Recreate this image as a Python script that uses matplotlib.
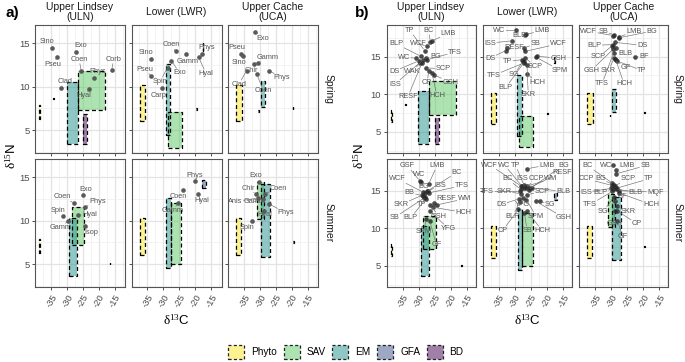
import matplotlib
matplotlib.use("Agg")
import matplotlib.pyplot as plt
from matplotlib.patches import Rectangle, Patch
from matplotlib.ticker import MultipleLocator
from matplotlib.colors import to_rgba

plt.rcParams['font.family'] = ['Liberation Sans', 'DejaVu Sans']
plt.rcParams['mathtext.fontset'] = 'custom'
plt.rcParams['mathtext.rm'] = 'Liberation Serif'
plt.rcParams['mathtext.it'] = 'Liberation Serif:italic'

# ---------------- data ----------------
SITES = ["ULN", "LWR", "UCA"]
SITE_LABELS = ["Upper Lindsey\n(ULN)", "Lower (LWR)", "Upper Cache\n(UCA)"]
SEASONS = ["Spring", "Summer"]
GROUPS = ["Phyto", "SAV", "EM", "GFA", "BD"]
X_TICKS = [-35, -30, -25, -20, -15]
Y_TICKS = [5, 10, 15]

# baseline source boxes: (group, d13C min, d13C max, d15N min, d15N max)
BOX_ULN_SPRING = [("Phyto", -38.6, -38.35, 6.3, 7.85), ("SAV", -26.65, -18.2, 7.3, 11.8),
                  ("EM", -30.1, -26.65, 3.35, 10.5), ("GFA", -34.25, -34.05, 8.55, 8.7),
                  ("BD", -24.9, -23.7, 3.35, 6.8)]
BOX_LWR_SPRING = [("Phyto", -37.45, -35.85, 6.05, 10.2), ("SAV", -28.55, -24.3, 2.95, 7.1),
                  ("EM", -29.25, -27.8, 4.4, 12.55), ("GFA", -19.8, -19.6, 7.35, 7.55),
                  ("BD", -17.65, -17.45, 14.1, 15.0)]
BOX_UCA_SPRING = [("Phyto", -37.4, -35.75, 6.0, 10.2), ("EM", -29.7, -28.45, 7.65, 10.65),
                  ("GFA", -30.45, -30.25, 7.05, 7.25), ("BD", -19.7, -19.5, 7.45, 7.65)]
BOX_ULN_SUMMER = [("Phyto", -38.6, -38.35, 6.3, 7.9), ("SAV", -28.5, -24.5, 7.2, 11.6),
                  ("EM", -29.2, -26.8, 3.6, 10.3), ("GFA", -16.6, -16.4, 5.0, 5.15)]
BOX_LWR_SUMMER = [("Phyto", -37.45, -35.8, 6.05, 10.25), ("SAV", -27.6, -24.4, 5.05, 12.0),
                  ("EM", -29.15, -27.6, 4.5, 12.55), ("GFA", -17.85, -16.8, 13.8, 14.65)]
BOX_UCA_SUMMER = [("Phyto", -37.4, -35.8, 6.05, 10.25), ("SAV", -30.9, -28.7, 10.2, 14.5),
                  ("EM", -29.65, -26.75, 5.8, 14.2), ("GFA", -19.65, -19.45, 7.45, 7.6)]

# a) invertebrate consumers: (taxon, d13C, d15N)
A_ULN_SPRING = [("Sino", -34.8, 14.5), ("Pseu", -33.0, 13.4), ("Exo", -27.1, 14.0), ("Coen", -25.5, 11.8),
                ("Corb", -16.0, 11.9), ("Phys", -21.5, 11.0), ("Hyal", -23.1, 9.7), ("Clad", -32.0, 9.85)]
A_LWR_SPRING = [("Sino", -34.0, 13.2), ("Pseu", -33.8, 11.2), ("Coen", -26.1, 14.05), ("Gamm", -22.9, 13.75),
                ("Phys", -18.0, 13.75), ("Hyal", -19.0, 13.4), ("Exo", -27.5, 13.0), ("Spin", -28.7, 12.2),
                ("Carp", -30.5, 9.85)]
A_UCA_SPRING = [("Exo", -31.55, 16.35), ("Pseu", -35.9, 13.75), ("Sino", -35.3, 13.55), ("Gamm", -30.5, 12.75),
                ("Chir", -31.9, 12.6), ("Clad", -34.2, 11.85), ("Coen", -31.0, 11.45), ("Phys", -27.1, 11.85)]
A_ULN_SUMMER = [("Exo", -25.0, 12.97), ("Coen", -27.7, 12.0), ("Phys", -24.3, 11.6), ("Spin", -31.1, 10.5),
                ("Hyal", -26.4, 10.65), ("Gamm", -29.6, 10.0), ("Isop", -24.2, 9.4)]
A_LWR_SUMMER = [("Phys", -20.1, 14.57), ("Hyal", -19.2, 13.1), ("Coen", -24.0, 13.5), ("Gamm", -25.35, 12.0)]
A_UCA_SUMMER = [("Exo", -30.3, 14.5), ("Chir", -31.3, 13.05), ("Coen", -28.4, 13.1), ("Anis", -30.6, 12.6),
                ("Gamm", -28.9, 12.5), ("Phys", -27.1, 11.9), ("Hyal", -28.7, 11.15), ("Spin", -32.6, 9.9)]

# b) fish consumers: (species, d13C, d15N)
B_ULN_SPRING = [("TP", -28.1, 15.8), ("BC", -26.3, 16.96), ("LMB", -25.8, 17.1), ("BLP", -29.35, 15.05),
                ("WCF", -27.5, 16.4), ("BG", -27.8, 14.8), ("TFS", -27.2, 14.6), ("WC", -30.9, 14.8),
                ("DS", -29.9, 14.45), ("WAK", -28.55, 14.6), ("SCP", -27.8, 13.5), ("ISS", -29.6, 14.2),
                ("CP", -26.8, 13.1), ("GSH", -25.3, 12.6), ("RESF", -29.0, 14.1), ("HCH", -25.8, 12.8)]
B_LWR_SPRING = [("WC", -29.6, 18.5), ("BLB", -26.7, 17.9), ("LMB", -26.4, 17.95), ("ISS", -30.8, 17.1),
                ("RESF", -32.3, 16.15), ("SB", -27.2, 16.15), ("WCF", -26.7, 15.7), ("DS", -32.8, 15.8),
                ("GSH", -23.1, 15.05), ("SPM", -23.3, 14.9), ("TP", -27.7, 14.6), ("SCP", -26.7, 14.8),
                ("TFS", -27.2, 14.15), ("SG", -27.5, 14.4), ("HCH", -26.2, 12.7), ("BLP", -27.0, 14.3),
                ("SKR", -26.2, 13.9)]
B_UCA_SPRING = [("WCF", -29.35, 17.8), ("SB", -29.0, 17.9), ("LMB", -27.5, 17.6), ("BG", -27.6, 17.5),
                ("BLP", -29.35, 16.6), ("DS", -28.9, 16.9), ("SCP", -29.75, 16.4), ("BLB", -28.5, 16.15),
                ("BF", -22.6, 15.0), ("GSH", -29.3, 16.0), ("SKR", -29.0, 14.8), ("GF", -28.5, 14.5),
                ("TP", -28.0, 14.4), ("TFS", -29.2, 15.5), ("HCH", -28.6, 14.7)]
B_ULN_SUMMER = [("GSF", -29.6, 16.3), ("WC", -29.2, 16.2), ("LMB", -26.8, 15.9), ("BC", -27.0, 15.0),
                ("WCF", -28.6, 14.8), ("ISS", -27.5, 14.9), ("TFS", -26.7, 14.7), ("BB", -28.6, 14.3),
                ("BG", -28.0, 14.7), ("RESF", -25.3, 13.4), ("WM", -24.3, 13.1), ("SKR", -28.8, 14.4),
                ("TP", -28.0, 14.2), ("HCH", -25.5, 12.8), ("SB", -28.3, 14.0), ("BLP", -27.7, 13.9),
                ("GSH", -26.3, 13.1), ("YFG", -26.3, 12.25), ("SPM", -27.6, 11.2), ("GF", -26.5, 11.0)]
B_LWR_SUMMER = [("WCF", -28.0, 15.6), ("WC", -27.7, 15.55), ("TP", -27.2, 15.8), ("LMB", -26.2, 17.9),
                ("BG", -25.7, 15.1), ("BC", -28.2, 15.2), ("ISS", -27.0, 15.3), ("CCP", -26.6, 15.4),
                ("WM", -26.2, 15.6), ("RESF", -25.4, 15.4), ("TFS", -28.5, 14.9), ("SKR", -28.0, 14.6),
                ("SCP", -26.2, 14.45), ("BLB", -24.6, 15.35), ("DS", -28.7, 13.9), ("YFG", -27.4, 14.0),
                ("SG", -22.1, 13.6), ("BLP", -28.3, 13.5), ("SPM", -26.4, 13.8), ("GSH", -23.5, 13.6),
                ("CP", -28.9, 12.5), ("SB", -27.0, 12.0), ("HCH", -26.2, 12.3)]
B_UCA_SUMMER = [("WC", -29.35, 18.4), ("LMB", -28.5, 17.7), ("SB", -28.3, 17.25), ("BC", -29.6, 16.0),
                ("CCP", -29.8, 15.7), ("BG", -29.2, 15.8), ("SCP", -28.75, 15.65), ("TP", -28.0, 15.35),
                ("ISS", -29.9, 15.3), ("BLP", -29.5, 15.2), ("BLB", -28.3, 15.2), ("MQF", -27.6, 15.0),
                ("TFS", -29.6, 14.9), ("HCH", -27.5, 14.7), ("SG", -29.0, 14.2), ("SKR", -28.2, 13.0),
                ("GSH", -28.9, 12.3), ("CP", -28.2, 12.35), ("GF", -28.0, 11.0), ("BF", -28.75, 13.6)]

# label placements (repelled text positions, data units)
A_ULN_SPRING_LAB = [(-36.3, 15.2), (-34.3, 12.6), (-25.8, 14.7), (-26.2, 13.15), (-15.3, 13.15),
                    (-20.3, 11.7), (-24.6, 8.95), (-30.5, 10.6)]
A_LWR_SPRING_LAB = [(-35.6, 13.9), (-35.9, 12.0), (-27.6, 14.8), (-22.4, 12.9), (-16.3, 14.5),
                    (-16.6, 11.5), (-25.0, 11.6), (-31.0, 10.6), (-31.4, 9.0)]
A_UCA_SPRING_LAB = [(-29.0, 15.6), (-37.2, 14.5), (-36.6, 12.8), (-27.65, 13.4), (-32.7, 11.85),
                    (-36.6, 10.25), (-28.9, 9.55), (-23.2, 11.0)]
A_ULN_SUMMER_LAB = [(-24.0, 13.6), (-31.4, 12.75), (-20.5, 12.2), (-32.7, 11.15), (-22.9, 10.7),
                    (-31.9, 9.2), (-22.4, 8.65)]
A_LWR_SUMMER_LAB = [(-20.1, 15.25), (-17.85, 12.3), (-25.4, 12.75), (-27.15, 11.15)]
A_UCA_SUMMER_LAB = [(-31.3, 15.25), (-33.6, 13.75), (-24.2, 13.75), (-37.7, 12.2), (-31.8, 12.2),
                    (-21.8, 10.9), (-28.4, 10.65), (-34.0, 9.2)]
B_ULN_SPRING_LAB = [(-32.65, 18.47), (-26.8, 18.47), (-20.65, 18.07), (-36.9, 16.7), (-29.9, 16.7),
                    (-24.75, 15.05), (-18.6, 15.6), (-34.5, 14.9), (-37.6, 13.05), (-31.9, 13.05),
                    (-22.2, 13.4), (-37.35, 11.35), (-27.3, 11.6), (-20.1, 11.6), (-33.3, 9.7), (-24.25, 9.85)]
B_LWR_SPRING_LAB = [(-34.85, 18.47), (-28.7, 17.85), (-21.5, 18.47), (-37.7, 16.8), (-30.2, 16.15),
                    (-23.55, 16.7), (-16.4, 16.7), (-37.7, 14.8), (-16.4, 14.8), (-15.9, 13.2),
                    (-32.3, 14.35), (-23.55, 13.7), (-36.7, 12.5), (-30.2, 12.6), (-23.05, 11.6),
                    (-32.8, 10.9), (-25.8, 9.95)]
B_UCA_SPRING_LAB = [(-37.0, 18.37), (-32.4, 18.37), (-22.9, 18.37), (-17.25, 18.37), (-35.2, 16.5),
                    (-20.3, 16.5), (-33.9, 14.95), (-25.45, 15.4), (-19.8, 14.95), (-36.2, 13.15),
                    (-30.8, 13.15), (-25.25, 13.5), (-20.3, 13.15), (-32.8, 11.4), (-25.95, 11.4)]
B_ULN_SUMMER_LAB = [(-33.5, 18.3), (-29.9, 17.1), (-24.25, 18.3), (-18.1, 17.4), (-36.55, 16.55),
                    (-23.2, 15.65), (-16.55, 15.65), (-32.75, 14.75), (-28.35, 15.5), (-21.2, 13.9),
                    (-15.7, 13.9), (-35.5, 13.15), (-29.05, 13.15), (-16.0, 12.1), (-37.55, 11.4),
                    (-32.4, 11.4), (-23.7, 11.6), (-20.65, 9.95), (-28.35, 9.6), (-24.45, 7.85)]
B_LWR_SUMMER_LAB = [(-37.8, 18.4), (-33.2, 18.4), (-29.8, 18.4), (-20.0, 18.4), (-14.85, 18.4),
                    (-32.3, 16.55), (-27.6, 16.55), (-23.3, 16.55), (-18.8, 16.55), (-15.3, 17.45),
                    (-38.6, 14.9), (-33.3, 14.9), (-21.5, 14.9), (-14.85, 14.9), (-34.3, 13.15),
                    (-27.7, 13.15), (-18.95, 13.15), (-30.75, 11.6), (-23.35, 11.6), (-14.85, 11.45),
                    (-33.8, 9.7), (-26.15, 9.7), (-21.5, 9.7)]
B_UCA_SUMMER_LAB = [(-31.4, 18.3), (-24.95, 18.3), (-19.3, 18.3), (-37.25, 18.3), (-37.55, 16.55),
                    (-33.3, 16.55), (-24.65, 16.55), (-18.3, 16.55), (-37.8, 14.8), (-33.3, 14.8),
                    (-22.35, 14.8), (-16.2, 14.8), (-36.5, 13.15), (-17.45, 13.15), (-32.4, 12.25),
                    (-24.65, 12.25), (-28.75, 10.6), (-21.9, 10.6), (-26.3, 8.9), (-26.5, 14.25)]

BOXES = {("ULN", "Spring"): BOX_ULN_SPRING, ("LWR", "Spring"): BOX_LWR_SPRING, ("UCA", "Spring"): BOX_UCA_SPRING,
         ("ULN", "Summer"): BOX_ULN_SUMMER, ("LWR", "Summer"): BOX_LWR_SUMMER, ("UCA", "Summer"): BOX_UCA_SUMMER}
A_PTS = {("ULN", "Spring"): (A_ULN_SPRING, A_ULN_SPRING_LAB), ("LWR", "Spring"): (A_LWR_SPRING, A_LWR_SPRING_LAB),
         ("UCA", "Spring"): (A_UCA_SPRING, A_UCA_SPRING_LAB), ("ULN", "Summer"): (A_ULN_SUMMER, A_ULN_SUMMER_LAB),
         ("LWR", "Summer"): (A_LWR_SUMMER, A_LWR_SUMMER_LAB), ("UCA", "Summer"): (A_UCA_SUMMER, A_UCA_SUMMER_LAB)}
B_PTS = {("ULN", "Spring"): (B_ULN_SPRING, B_ULN_SPRING_LAB), ("LWR", "Spring"): (B_LWR_SPRING, B_LWR_SPRING_LAB),
         ("UCA", "Spring"): (B_UCA_SPRING, B_UCA_SPRING_LAB), ("ULN", "Summer"): (B_ULN_SUMMER, B_ULN_SUMMER_LAB),
         ("LWR", "Summer"): (B_LWR_SUMMER, B_LWR_SUMMER_LAB), ("UCA", "Summer"): (B_UCA_SUMMER, B_UCA_SUMMER_LAB)}

# ---------------- style ----------------
VIRIDIS = {"Phyto": "#FDE725", "SAV": "#5DC863", "EM": "#21908C", "GFA": "#3B528B", "BD": "#440154"}
W, H = 685, 362
DASH = (0, (3.2, 2.2))

fig = plt.figure(figsize=(W / 100, H / 100), dpi=100)


def fx(px):
    return px / W


def fy(py):
    return 1 - py / H


ROWS = [(25, 153), (159, 287)]
PANELS = {
    "a": dict(cols=[35, 131.5, 228], w=90, xlim=(-40.0, -11.8), ylim=(2.35, 17.1),
              pts=A_PTS, pcol="#5a5a5a", palpha=1.0, strip_x=329, ylab_x=11, tag_x=13),
    "b": dict(cols=[386.5, 482.8, 579], w=89, xlim=(-40.0, -12.2), ylim=(2.2, 19.2),
              pts=B_PTS, pcol="#2b2b2b", palpha=0.85, strip_x=678, ylab_x=359, tag_x=363),
}


def draw_facet(ax, boxes, pts, labs, pcol, palpha):
    for g, x0, x1, y0, y1 in boxes:
        ax.add_patch(Rectangle((x0, y0), x1 - x0, y1 - y0, facecolor=to_rgba(VIRIDIS[g], 0.5),
                               edgecolor="none", zorder=2))
        ax.add_patch(Rectangle((x0, y0), x1 - x0, y1 - y0, facecolor="none", edgecolor="black",
                               linestyle=DASH, lw=0.9, zorder=2.1))
    xs = [p[1] for p in pts]
    ys = [p[2] for p in pts]
    ax.scatter(xs, ys, s=11, color=pcol, alpha=palpha, linewidths=0, zorder=3)
    for (name, x, y), (lx, ly) in zip(pts, labs):
        p0 = ax.transData.transform((x, y))
        p1 = ax.transData.transform((lx, ly))
        dist = ((p0[0] - p1[0]) ** 2 + (p0[1] - p1[1]) ** 2) ** 0.5
        arrow = dict(arrowstyle="-", color="#6e6e6e", lw=0.45, shrinkA=0, shrinkB=1.5) if dist > 8 else None
        ax.annotate(name, (x, y), xytext=(lx, ly), textcoords="data", ha="center", va="center",
                    fontsize=5.3, color="#555555", zorder=5, annotation_clip=False,
                    bbox=dict(boxstyle="square,pad=0.12", fc="none", ec="none"),
                    arrowprops=arrow)


for key, P in PANELS.items():
    for r, season in enumerate(SEASONS):
        top, bot = ROWS[r]
        for c, site in enumerate(SITES):
            x0 = P["cols"][c]
            ax = fig.add_axes([fx(x0), fy(bot), fx(P["w"]), (bot - top) / H])
            ax.set_xlim(*P["xlim"])
            ax.set_ylim(*P["ylim"])
            ax.set_xticks(X_TICKS)
            ax.set_yticks(Y_TICKS)
            ax.xaxis.set_minor_locator(MultipleLocator(2.5))
            ax.yaxis.set_minor_locator(MultipleLocator(2.5))
            ax.grid(which="major", color="#e3e3e3", lw=0.9)
            ax.grid(which="minor", color="#eeeeee", lw=0.5)
            ax.tick_params(which="minor", length=0)
            ax.tick_params(which="major", length=2.5, width=0.6, color="#333333", labelsize=6.8,
                           labelcolor="#4d4d4d", pad=1.5)
            ax.set_axisbelow(True)
            for s in ax.spines.values():
                s.set_color("#555555")
                s.set_linewidth(0.8)
            if c != 0:
                ax.set_yticklabels([])
            if r == 0:
                ax.set_xticklabels([])
            else:
                ax.set_xticklabels([str(t) for t in X_TICKS], rotation=60, ha="right", va="top",
                                   rotation_mode="anchor")
            pts, labs = P["pts"][(site, season)]
            draw_facet(ax, BOXES[(site, season)], pts, labs, P["pcol"], P["palpha"])
            if r == 0:
                fig.text(fx(x0 + P["w"] / 2), fy(12), SITE_LABELS[c], ha="center", va="center",
                         fontsize=7.5, color="#1a1a1a", linespacing=1.0)
        fig.text(fx(P["strip_x"]), fy((top + bot) / 2), season, rotation=-90, ha="center", va="center",
                 fontsize=7.5, color="#1a1a1a")
    fig.text(fx(P["ylab_x"]), fy(156), r"$\mathrm{\delta}^{15}$N", rotation=90, ha="center",
             va="center", fontsize=9.5)
    xc = (P["cols"][0] + P["cols"][2] + P["w"]) / 2
    fig.text(fx(xc), fy(320), r"$\mathrm{\delta}^{13}$C", ha="center", va="center", fontsize=9.5)
    fig.text(fx(P["tag_x"] - 8), fy(13), key + ")", ha="left", va="center", fontsize=11,
             fontweight="bold")

handles = [Patch(facecolor=to_rgba(VIRIDIS[g], 0.5), edgecolor="#222222",
                 linestyle=(0, (2.5, 1.8)), lw=0.9) for g in GROUPS]
fig.legend(handles, GROUPS, loc="center", bbox_to_anchor=(fx(346), fy(352)), ncol=5, frameon=False,
           fontsize=7.2, handlelength=1.6, handleheight=1.7, handletextpad=0.7, columnspacing=0.65,
           borderaxespad=0, borderpad=0)

fig.savefig("out.png", dpi=100)
